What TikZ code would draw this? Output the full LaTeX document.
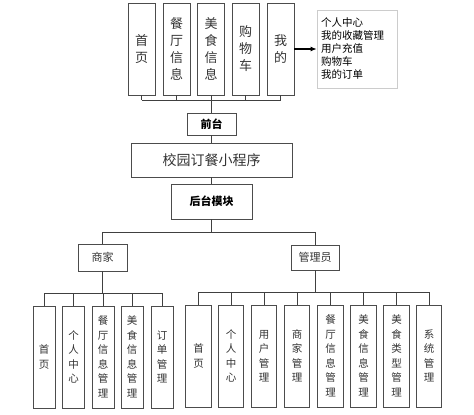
\documentclass[tikz,border=0pt]{standalone}
\usepackage{fontspec}
\setmainfont{Noto Sans CJK SC}
\usetikzlibrary{arrows.meta,shadows}
\tikzset{
  bx/.style={draw=black!70, line width=0.8pt, inner sep=0pt, align=center, text=black!80},
  topbox/.style={bx, minimum width=27pt, minimum height=92pt, font=\fontsize{13}{17}\selectfont},
  subbox/.style={bx, minimum height=102pt, font=\fontsize{10.5}{14.5}\selectfont},
  ln/.style={draw=black!75, line width=0.8pt},
}
\begin{document}
\begin{tikzpicture}[x=1pt,y=-1pt]
\useasboundingbox (0,0) rectangle (474,415);
% top row
\node[topbox] (t1) at (141.5,49) {首\\页};
\node[topbox] (t2) at (176.5,49) {餐\\厅\\信\\息};
\node[topbox] (t3) at (211,49) {美\\食\\信\\息};
\node[topbox] (t4) at (245.5,49) {购\\物\\车};
\node[topbox] (t5) at (280.5,49) {我\\的};
\node[draw=black!20, line width=0.6pt, fill=white, drop shadow={opacity=0.25, shadow xshift=1pt, shadow yshift=-1pt},
      minimum height=78pt, text width=72pt, inner xsep=4pt, inner ysep=0pt, align=left,
      font=\fontsize{10.5}{13}\selectfont] (lst) at (357,49)
  {个人中心\\我的收藏管理\\用户充值\\购物车\\我的订单};
\draw[line width=1.2pt, -{Latex[length=6pt,width=5pt]}] (t5.east) -- (lst.west);

\node[bx, minimum width=49pt, minimum height=22pt, font=\fontsize{11}{13}\selectfont\bfseries, text=black] (qt) at (211.5,124) {前台};
\node[bx, minimum width=161pt, minimum height=34pt, font=\fontsize{14}{16}\selectfont] (app) at (211.5,160) {校园订餐小程序};
\node[bx, minimum width=81pt, minimum height=35pt, font=\fontsize{11}{13}\selectfont\bfseries, text=black] (ht) at (211.5,201.5) {后台模块};

\coordinate (busT) at (0,100);
\foreach \i in {1,...,5} { \draw[ln] (t\i.south) -- (t\i.south |- busT); }
\draw[ln] (t1.south |- busT) -- (t5.south |- busT);
\draw[ln] (qt.north) -- (qt.north |- busT);
\draw[ln] (qt.south) -- (app.north);
\draw[ln] (app.south) -- (ht.north);

\node[bx, minimum width=49pt, minimum height=27pt, font=\fontsize{11}{13}\selectfont] (sj) at (102.5,257.5) {商家};
\node[bx, minimum width=48pt, minimum height=25pt, font=\fontsize{11}{13}\selectfont] (gly) at (315,257.5) {管理员};
\coordinate (busM) at (0,232);
\draw[ln] (ht.south) -- (ht.south |- busM);
\draw[ln] (sj.north) -- (sj.north |- busM) -- (gly.north |- busM) -- (gly.north);

% merchant children
\node[subbox, minimum width=22pt] (m1) at (44,357) {首\\页};
\node[subbox, minimum width=22pt] (m2) at (73.5,357) {个\\人\\中\\心};
\node[subbox, minimum width=22pt] (m3) at (103,357) {餐\\厅\\信\\息\\管\\理};
\node[subbox, minimum width=22pt] (m4) at (132,357) {美\\食\\信\\息\\管\\理};
\node[subbox, minimum width=22pt] (m5) at (162,357) {订\\单\\管\\理};
\coordinate (busS) at (0,293);
\draw[ln] (sj.south) -- (sj.south |- busS);
\foreach \i in {1,...,5} { \draw[ln] (m\i.north) -- (m\i.north |- busS); }
\draw[ln] (m1.north |- busS) -- (m5.north |- busS);

% admin children
\node[subbox, minimum width=25.5pt] (a1) at (198.5,356) {首\\页};
\node[subbox, minimum width=25.5pt] (a2) at (231,356) {个\\人\\中\\心};
\node[subbox, minimum width=25.5pt] (a3) at (264,356) {用\\户\\管\\理};
\node[subbox, minimum width=25.5pt] (a4) at (297,356) {商\\家\\管\\理};
\node[subbox, minimum width=25.5pt] (a5) at (330.5,356) {餐\\厅\\信\\息\\管\\理};
\node[subbox, minimum width=25.5pt] (a6) at (363.5,356) {美\\食\\信\\息\\管\\理};
\node[subbox, minimum width=25.5pt] (a7) at (396.5,356) {美\\食\\类\\型\\管\\理};
\node[subbox, minimum width=25.5pt] (a8) at (429,356) {系\\统\\管\\理};
\coordinate (busA) at (0,292);
\draw[ln] (gly.south) -- (gly.south |- busA);
\foreach \i in {1,...,8} { \draw[ln] (a\i.north) -- (a\i.north |- busA); }
\draw[ln] (a1.north |- busA) -- (a8.north |- busA);
\end{tikzpicture}
\end{document}
